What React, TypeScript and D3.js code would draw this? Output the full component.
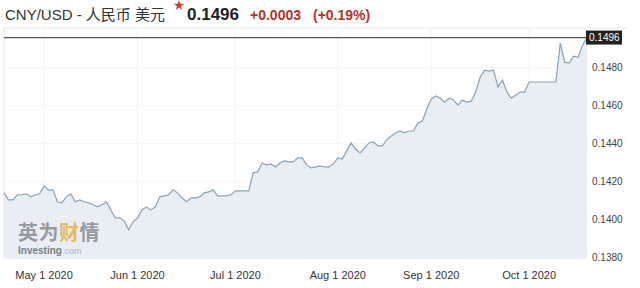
import React from "react";
import * as d3 from "d3";

// ---- data ----
const values: number[] = [
  0.14139, 0.14102, 0.14102, 0.14129, 0.14129, 0.14134, 0.14118, 0.14129, 0.14134, 0.14176,
  0.14155, 0.14155, 0.14092, 0.14086, 0.14118, 0.14134, 0.14092, 0.14102, 0.14092, 0.14086,
  0.14076, 0.14065, 0.14076, 0.14092, 0.14049, 0.14007, 0.14007, 0.13991, 0.13944, 0.13986,
  0.14007, 0.14049, 0.14065, 0.14049, 0.14065, 0.14118, 0.14123, 0.14129, 0.14155, 0.14139,
  0.14113, 0.14092, 0.14113, 0.14113, 0.14118, 0.14139, 0.14144, 0.14155, 0.14123, 0.14123,
  0.14123, 0.14129, 0.1415, 0.1415, 0.1415, 0.1415, 0.14245, 0.1425, 0.14297, 0.14287,
  0.14292, 0.14276, 0.14297, 0.14308, 0.14303, 0.14303, 0.14324, 0.14324, 0.14287, 0.14271,
  0.14276, 0.14282, 0.14276, 0.14276, 0.14292, 0.14324, 0.14318, 0.14361, 0.14403, 0.14371,
  0.1435, 0.14376, 0.14403, 0.14408, 0.14387, 0.14387, 0.14419, 0.1444, 0.14456, 0.14466,
  0.14456, 0.14466, 0.14466, 0.14508, 0.14519, 0.14582, 0.14635, 0.14651, 0.1464, 0.14619,
  0.1464, 0.1463, 0.14603, 0.1463, 0.14619, 0.14624, 0.14672, 0.14751, 0.14788, 0.14783,
  0.14788, 0.14698, 0.14735, 0.14672, 0.1464, 0.14656, 0.14672, 0.14672, 0.14725, 0.14725,
  0.14725, 0.14725, 0.14725, 0.14725, 0.14725, 0.1493, 0.1483, 0.14825, 0.14862, 0.14856,
  0.1492, 0.1496,
];

const xTickIndex: number[] = [9, 30, 52, 75, 96, 118];
const xTickLabels: string[] = ["May 1 2020", "Jun 1 2020", "Jul 1 2020", "Aug 1 2020", "Sep 1 2020", "Oct 1 2020"];
const yTicks: number[] = [0.138, 0.14, 0.142, 0.144, 0.146, 0.148];

const titleText = "CNY/USD - 人民币 美元";
const lastValue = 0.1496;
const changeText = "+0.0003";
const changePctText = "(+0.19%)";

const FONT = "'Liberation Sans', Arial, 'Noto Sans CJK SC', sans-serif";

export default function App() {
  const W = 640;
  const H = 288;
  const left = 4;
  const right = 587;
  const top = 28;
  const bottom = 259;

  const x = d3.scaleLinear().domain([0, values.length - 1]).range([left, right]);
  const y = d3.scaleLinear().domain([0.138, 0.15]).range([257, 30]);

  const area = d3
    .area<number>()
    .x((_, i) => x(i))
    .y0(bottom)
    .y1((d) => y(d));
  const line = d3
    .line<number>()
    .x((_, i) => x(i))
    .y((d) => y(d));

  const star = d3.symbol().type(d3.symbolStar).size(34)();
  const lastY = y(lastValue);

  return (
    <svg
      width={W}
      height={H}
      style={{ position: "absolute", left: 0, top: 0, background: "#fff" }}
      fontFamily={FONT}
    >
      <defs>
        <linearGradient id="caiGrad" x1="0" x2="1" y1="0" y2="0">
          <stop offset="0.45" stopColor="#8d9299" />
          <stop offset="0.55" stopColor="#e9b64a" />
          <stop offset="1" stopColor="#e9a93a" />
        </linearGradient>
      </defs>

      {/* header */}
      <text x={5} y={19.5} fontSize={15} fill="#333">
        {titleText}
      </text>
      <path d={star} transform="translate(179,5.5)" fill="#d23a30" />
      <text x={187} y={20} fontSize={17} fontWeight="bold" fill="#222">
        {lastValue.toFixed(4)}
      </text>
      <text x={250} y={20} fontSize={14} fontWeight="600" fill="#b8312b">
        {changeText}
      </text>
      <text x={313} y={20} fontSize={14} fontWeight="600" fill="#b8312b">
        {changePctText}
      </text>

      {/* plot frame */}
      <line x1={left} x2={right + 40} y1={top} y2={top} stroke="#e6e6e6" />
      <line x1={left} x2={left} y1={top} y2={bottom} stroke="#e2e2e2" />

      {/* grid */}
      {xTickIndex.map((t, i) => (
        <line key={"gx" + i} x1={x(t)} x2={x(t)} y1={top} y2={bottom} stroke="#f3f4f5" />
      ))}
      {yTicks.map((t, i) => (
        <line key={"gy" + i} x1={left} x2={right} y1={y(t)} y2={y(t)} stroke="#f5f6f7" />
      ))}

      {/* area + line */}
      <path d={area(values) || ""} fill="#e8eef4" />
      <path d={line(values) || ""} fill="none" stroke="#8ba1b3" strokeWidth={1.2} />

      {/* watermark */}
      <text x={18} y={240} fontSize={20} fontWeight="bold" fill="#8d9299" opacity={0.9} letterSpacing={0.5}>
        英为<tspan fill="url(#caiGrad)">财</tspan>情
      </text>
      <text x={18} y={254} fontSize={10} fontWeight="bold" fill="#6f747b" opacity={0.9}>
        Investing<tspan fontWeight="normal" fill="#a9adb3" fontSize={9}>.com</tspan>
      </text>

      {/* current value line + label */}
      <line x1={left} x2={right} y1={lastY} y2={lastY} stroke="#555" strokeWidth={1.2} />
      <rect x={586} y={lastY - 7} width={36} height={14} fill="#222" />
      <text x={589} y={lastY + 3.6} fontSize={10} fill="#fff">
        {lastValue.toFixed(4)}
      </text>

      {/* y axis labels */}
      {yTicks.map((t, i) => (
        <text key={"yl" + i} x={592} y={y(t) + 3.6} fontSize={10} fill="#444">
          {t.toFixed(4)}
        </text>
      ))}

      {/* x axis labels */}
      {xTickIndex.map((t, i) => (
        <text key={"xl" + i} x={x(t)} y={279} fontSize={11} fill="#333" textAnchor="middle">
          {xTickLabels[i]}
        </text>
      ))}
    </svg>
  );
}
